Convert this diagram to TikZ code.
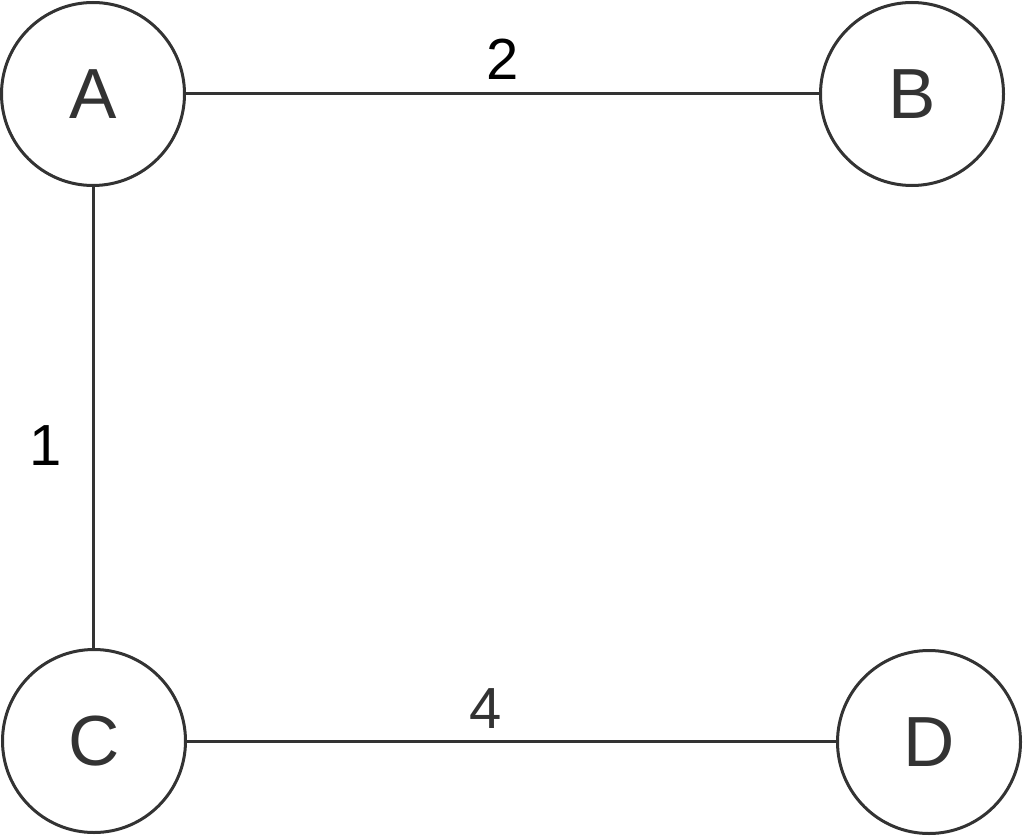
\documentclass[tikz,border=0pt]{standalone}
\usepackage{fontspec}
\setmainfont{Liberation Sans}
\definecolor{ink}{HTML}{333333}
\begin{document}
\begin{tikzpicture}[x=1pt, y=-1pt,
    vertex/.style={circle, draw=ink, line width=3pt, minimum size=183pt, inner sep=0pt, text=ink, font=\fontsize{71}{71}\selectfont},
    edge/.style={draw=ink, line width=3pt},
    weight/.style={font=\fontsize{58}{58}\selectfont, inner sep=0pt}]
\useasboundingbox (0,0) rectangle (1024,837);

\node[vertex] (A) at (93,94) {A};
\node[vertex] (B) at (912,94) {B};
\node[vertex] (C) at (94,741) {C};
\node[vertex] (D) at (929,742) {D};

\draw[edge] (A) -- node[weight, above=13pt] {2} (B);
\draw[edge] (A.south) -- node[weight, left=30pt, pos=0.56] {1} (A.south |- C.north);
\draw[edge] (C.east) -- node[weight, text=ink, above=11pt, pos=0.46] {4} (C.east -| D.west);

\end{tikzpicture}
\end{document}
